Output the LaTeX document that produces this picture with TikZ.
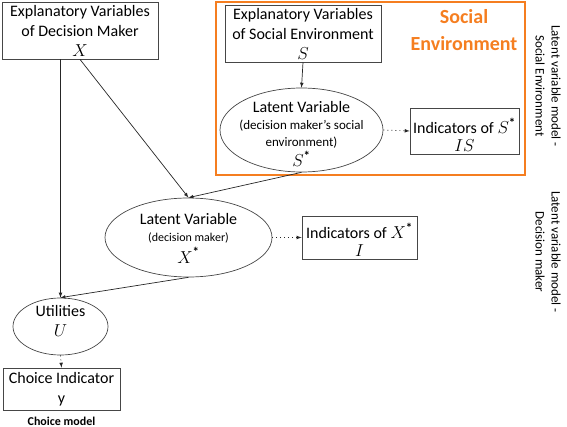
\documentclass[tikz,border=0pt]{standalone}
\usepackage{fontspec}
\setmainfont{Carlito}
\usetikzlibrary{arrows,shapes.geometric}
\usetikzlibrary{positioning}
\definecolor{socialorange}{RGB}{245,126,32}
\definecolor{linegray}{RGB}{70,70,70}
\newcommand{\latstar}{^{\mbox{\bfseries\fontsize{13}{13}\selectfont *}}}
\tikzstyle{varbox} = [rectangle, draw=linegray, line width=0.8pt, inner sep=0pt]
\tikzstyle{latent} = [ellipse, draw=linegray, line width=0.7pt, inner sep=0pt]
\tikzstyle{boxtext} = [align=center, inner sep=0pt, font=\fontsize{16}{20}\selectfont]
\tikzstyle{sidelabel} = [rotate=-90, align=center, inner sep=0pt, font=\fontsize{13}{16}\selectfont]
\tikzstyle{arrow} = [-latex, draw=black!85, line width=0.7pt]
\tikzstyle{dotarrow} = [-latex, draw=black!85, line width=0.7pt, dash pattern=on 1pt off 3pt]

\begin{document}
\begin{tikzpicture}[x=1pt, y=-1pt]
 \useasboundingbox (0,0) rectangle (567,427);

 % social environment frame
 \draw[socialorange, line width=2pt] (216,2) rectangle (525,175);
 \node (socialtitle) [boxtext, text=socialorange, font=\bfseries\fontsize{20}{27}\selectfont] at (464,30) {Social\\Environment};

 % boxes and ellipses
 \node (xbox) [varbox, minimum width=156pt, minimum height=57pt] at (80,30.5) {};
 \node [boxtext] at (xbox) {Explanatory Variables\\of Decision Maker\\$X$};

 \node (sbox) [varbox, minimum width=156pt, minimum height=57pt] at (303,33.5) {};
 \node [boxtext] at (sbox) {Explanatory Variables\\of Social Environment\\$S$};

 \node (slatent) [latent, minimum width=163pt, minimum height=84pt] at (301.5,130) {};
 \node [boxtext] at (301.5,134) {Latent Variable\\[-3pt]
  {\fontsize{13}{16}\selectfont (decision maker's social}\\[-3pt]
  {\fontsize{13}{16}\selectfont environment)}\\ $S\latstar$};

 \node (isbox) [varbox, minimum width=109pt, minimum height=46pt] at (464.5,131) {};
 \node [boxtext] at (464.5,135) {Indicators of $S\latstar$\\[-2pt]$IS$};

 \node (xlatent) [latent, minimum width=167pt, minimum height=79pt] at (188.5,237.5) {};
 \node [boxtext] at (188.5,238) {Latent Variable\\[-3pt]
  {\fontsize{12}{15}\selectfont (decision maker)}\\[2pt] $X\latstar$};

 \node (ibox) [varbox, minimum width=115pt, minimum height=43pt] at (359.5,237.5) {};
 \node [boxtext] at (359.5,240) {Indicators of $X\latstar$\\[-2pt]$I$};

 \node (util) [latent, minimum width=95pt, minimum height=57pt] at (60.5,326.5) {};
 \node [boxtext] at (60.5,321) {Utilities\\$U$};

 \node (choice) [varbox, minimum width=117pt, minimum height=42pt] at (61.5,389) {};
 \node [boxtext] at (choice) {Choice Indicator\\y};
 \node (choicelabel) [font=\bfseries\fontsize{12}{14}\selectfont] at (61.5,421) {Choice model};

 % side labels
 \node (sidesocial) [sidelabel] at (548,86) {Latent variable model -\\Social Environment};
 \node (sidedecision) [sidelabel] at (548,252) {Latent variable model -\\Decision maker};

 % connectors
 \draw[arrow] (xbox.south -| util.north) -- (util.north);
 \draw[arrow] (xbox.south) -- (xlatent.north);
 \draw[arrow] (sbox.south) -- (slatent.north);
 \draw[arrow] (slatent.south) -- (xlatent.north);
 \draw[arrow] (xlatent.south) -- (util.north);
 \draw[dotarrow] (slatent.east) -- (isbox.west);
 \draw[dotarrow] (xlatent.east) -- (ibox.west);
 \draw[dotarrow] (util.south) -- (choice.north);
\end{tikzpicture}
\end{document}
